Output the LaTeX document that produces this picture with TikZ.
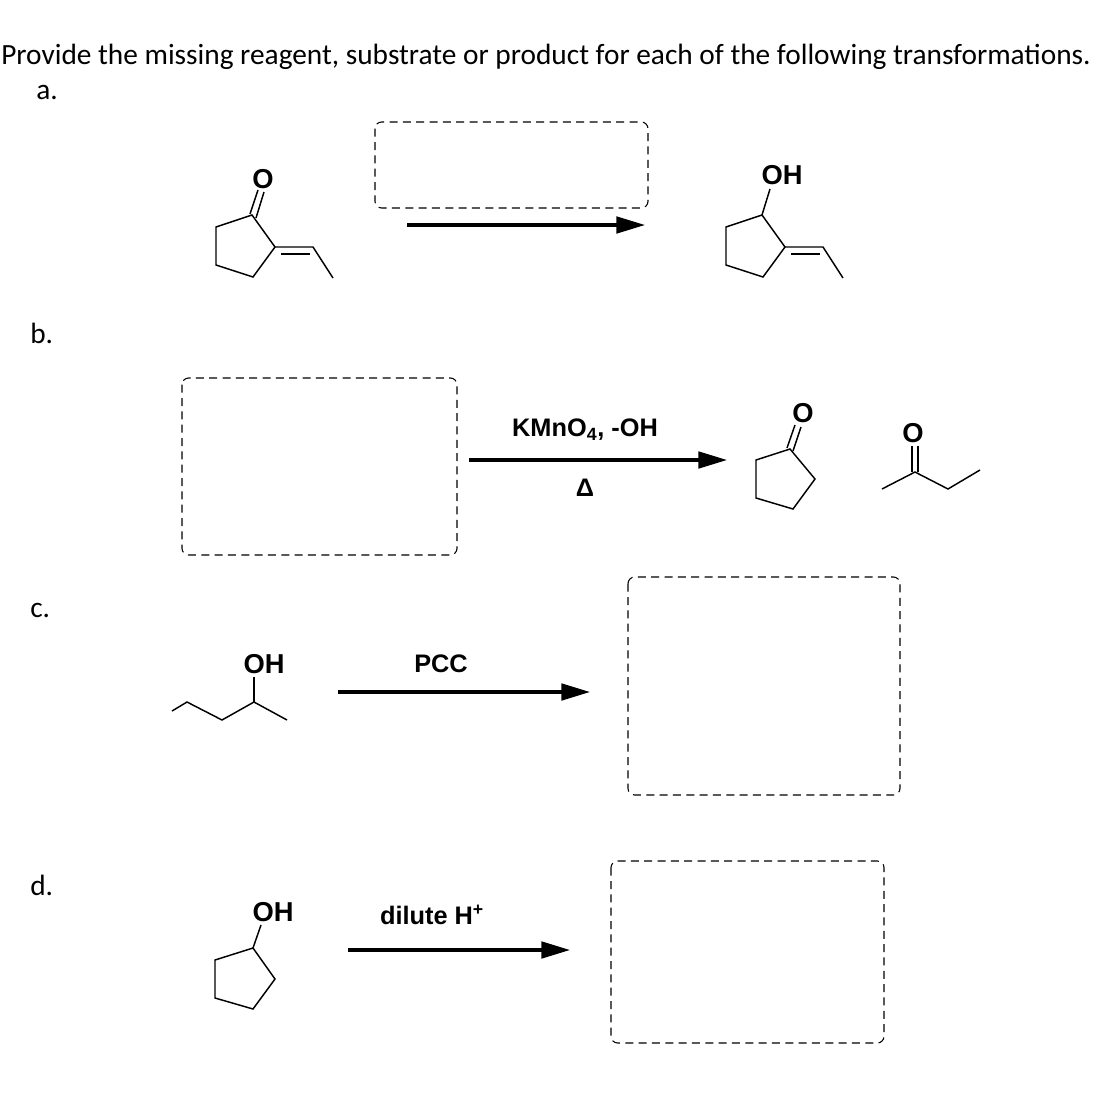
\documentclass[tikz,border=0pt]{standalone}
\usepackage{fontspec}
\setmainfont{Carlito}
\newfontfamily\arial{Liberation Sans}
\usetikzlibrary{arrows.meta}
\begin{document}
\begin{tikzpicture}[x=0.75pt,y=-0.75pt,
  bond/.style={line width=1.1pt},
  dbox/.style={dashed,line width=0.8pt,rounded corners=5pt,dash pattern=on 6pt off 4pt},
  rarrow/.style={line width=3.6pt,-{Triangle[length=22pt,width=12pt]},shorten >=-2pt},
  atom/.style={font=\arial\bfseries\fontsize{20.5}{22}\selectfont,inner sep=0pt},
  reag/.style={font=\arial\bfseries\fontsize{19}{21}\selectfont,inner sep=0pt},
  lab/.style={font=\fontsize{22}{25}\selectfont,inner sep=0pt,anchor=west}]
\useasboundingbox (0,0) rectangle (1102,1104);
\node[lab] (title) at (1,57) {Provide the missing reagent, substrate or product for each of the following transformations.};
\node[lab] (la) at (36,92) {a.};
\node[lab] (lb) at (30,333) {b.};
\node[lab] (lc) at (30,610) {c.};
\node[lab] (ld) at (30,885) {d.};
% a substrate
\node[atom] (Oa) at (263,179) {O};
\draw[bond] (216,227)--(252,215)--(275,247)--(253,277)--(216,265)--cycle;
\draw[bond] (250,214)--(258,190) (256,218)--(264,192);
\draw[bond] (275,247)--(313,247)--(333,278);
\draw[bond] (281,254)--(310,254);
% a box & arrow
\draw[dbox] (375,122) rectangle (648,208);
\coordinate (a1) at (407,225); \coordinate (a2) at (643,225);
\draw[rarrow] (a1)--(a2);
% a product
\node[atom] (OHa) at (782,175) {OH};
\draw[bond] (726,227)--(762,215)--(785,247)--(763,277)--(726,265)--cycle;
\draw[bond] (762,215)--(770,189);
\draw[bond] (785,247)--(823,247)--(843,278);
\draw[bond] (791,254)--(820,254);
% b
\draw[dbox] (182,378) rectangle (457,555);
\coordinate (b1) at (469,460); \coordinate (b2) at (725,460);
\draw[rarrow] (b1)--(b2);
\node[reag] (kmno) at (585,430) {KMnO\textsubscript{4}, -OH};
\node[reag] (delta) at (585,488) {Δ};
\node[atom] (Ob1) at (803,413) {O};
\draw[bond] (756,460)--(790,449)--(815,479)--(793,509)--(756,498)--cycle;
\draw[bond] (787,448)--(795,425) (793,451)--(801,427);
\node[atom] (Ob2) at (913,433) {O};
\draw[bond] (882,489)--(915,472)--(948,489)--(980,470);
\draw[bond] (912,472)--(912,446) (918,472)--(918,446);
% c
\draw[dbox] (628,577) rectangle (900,795);
\node[atom] (OHc) at (264,664) {OH};
\draw[bond] (172,711)--(187,702)--(222,720)--(254,702)--(287,720);
\draw[bond] (254,702)--(254,677);
\coordinate (c1) at (338,692); \coordinate (c2) at (588,692);
\draw[rarrow] (c1)--(c2);
\node[reag] (pcc) at (441,664) {PCC};
% d
\draw[dbox] (611,861) rectangle (884,1043);
\node[atom] (OHd) at (273,912) {OH};
\draw[bond] (215,960)--(253,948)--(275,979)--(253,1009)--(215,998)--cycle;
\draw[bond] (253,948)--(261,925);
\coordinate (d1) at (348,950); \coordinate (d2) at (568,950);
\draw[rarrow] (d1)--(d2);
\node[reag] (dil) at (432,915) {dilute H\textsuperscript{+}};
\end{tikzpicture}
\end{document}
